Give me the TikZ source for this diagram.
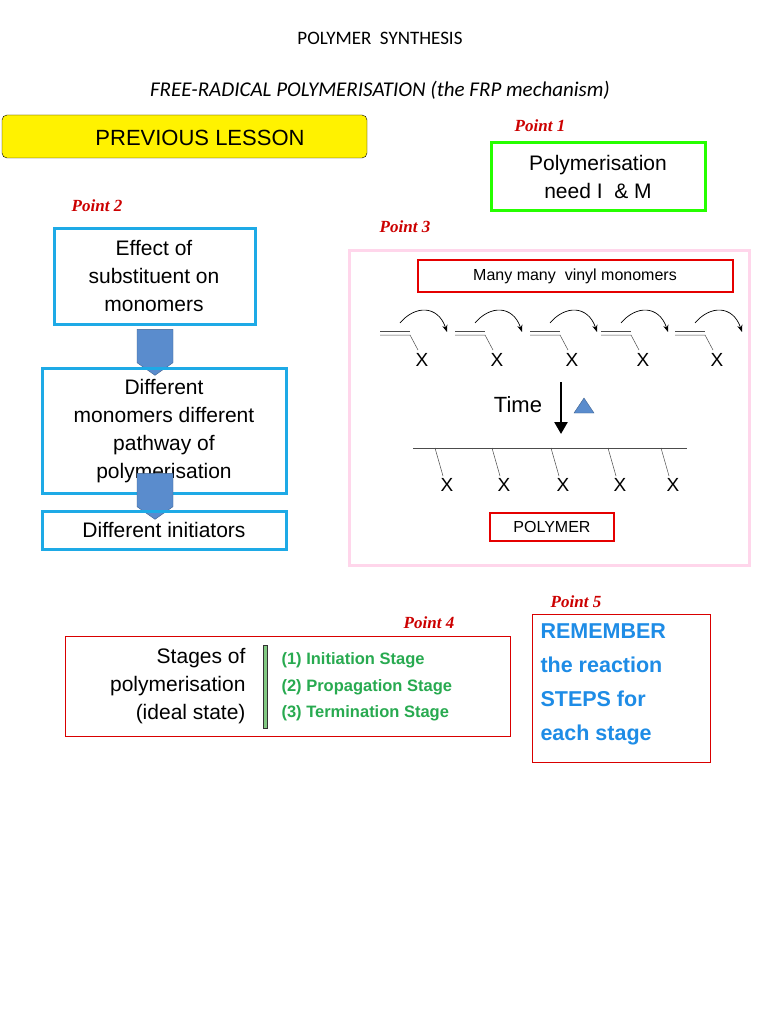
\documentclass[tikz,border=0pt]{standalone}
\usepackage{fontspec}
\setmainfont{Liberation Sans}
\newfontfamily\calib{Carlito}
\newfontfamily\pointfont{Liberation Serif}
\usetikzlibrary{arrows.meta,shapes.geometric,shapes.arrows}
\definecolor{pblue}{RGB}{30,170,230}
\definecolor{arrblue}{RGB}{90,140,205}
\definecolor{sgreen}{RGB}{40,170,80}
\definecolor{rembl}{RGB}{30,140,230}
\begin{document}
\begin{tikzpicture}[x=1pt,y=-1pt,
  pt/.style={font=\pointfont\itshape\bfseries\fontsize{17}{17}\selectfont, text=red!80!black},
  bluebox/.style={draw=pblue, line width=3pt, align=center, font=\fontsize{21}{26}\selectfont},
  redbox/.style={draw=red!90!black, line width=2.5pt},
  bond/.style={line width=0.5pt, gray!60!black},
  xl/.style={font=\fontsize{19}{19}\selectfont},
  downarr/.style={single arrow, draw=arrblue!70!black, fill=arrblue, rotate=-90, minimum height=46pt, minimum width=36pt, single arrow head extend=0pt, inner sep=0pt, single arrow tip angle=110, shape border rotate=0}]
\useasboundingbox (0,0) rectangle (768,1024);
\fill[white] (0,0) rectangle (768,1024);
\node[font=\calib\fontsize{19}{19}\selectfont] (t1) at (380,38) {POLYMER\ \ SYNTHESIS};
\node[font=\calib\itshape\fontsize{21}{21}\selectfont] (t2) at (380,90) {FREE-RADICAL POLYMERISATION (the FRP mechanism)};
\draw[fill=yellow, rounded corners=5pt] (2,115) rectangle (367,158);
\node[font=\fontsize{22}{22}\selectfont] (prev) at (200,138) {PREVIOUS LESSON};
\node[pt] (p1) at (540,126) {Point 1};
\draw[draw=green!80!lime, line width=3pt] (491,143) rectangle (705,211);
\node[align=center, font=\fontsize{21}{28}\selectfont] (pm) at (598,177) {Polymerisation\\need I\ \ \& M};
\node[pt] (p2) at (97,206) {Point 2};
\node[pt] (p3) at (405,227) {Point 3};
\node[pt] (p4) at (429,623) {Point 4};
\node[pt] (p5) at (576,602) {Point 5};
% blue boxes
\draw[bluebox] (54,229) rectangle (255,324);
\node[align=center, font=\fontsize{21}{28}\selectfont] (b1) at (154,276) {Effect of\\substituent on\\monomers};
\node[downarr] (a1) at (155,346) {};
\draw[bluebox] (42,368) rectangle (286,493);
\node[align=center, font=\fontsize{21}{28}\selectfont] (b2) at (164,431) {Different\\monomers different\\pathway of\\polymerisation};
\node[downarr] (a2) at (155,490) {};
\draw[bluebox] (42,511) rectangle (286,549);
\node[font=\fontsize{21}{21}\selectfont] (b3) at (164,530) {Different initiators};
% pink box
\draw[draw=pink!80!magenta!40, line width=3pt] (349,250) rectangle (749,565);
\draw[redbox] (418,260) rectangle (733,292);
\node[font=\fontsize{16}{16}\selectfont] (mm) at (575,276) {Many many\ \ vinyl monomers};
\foreach \x in {380,455,530,601,675}{
  \draw[bond] (\x,331) -- (\x+30,331);
  \draw[bond] (\x,335) -- (\x+30,335) -- (\x+38,350);
  \node[xl] at (\x+42,360) {X};
  \draw[-{Stealth[length=7pt]}, line width=0.7pt] (\x+20,323) .. controls (\x+35,305) and (\x+58,305) .. (\x+67,332);
}
\node[font=\fontsize{22}{22}\selectfont] (time) at (518,405) {Time};
\coordinate (ta) at (561,382);
\coordinate (tb) at (561,434);
\draw[line width=2.5pt, -{Triangle[length=12pt,width=13pt]}] (ta) -- (tb);
\fill[arrblue, draw=arrblue!70!black] (574,413) -- (594,413) -- (584,398) -- cycle;
\draw[bond] (413,448) -- (687,448);
\foreach \x/\xx in {435/447,492/504,551/563,608/620,661/673}{
  \draw[bond] (\x,448) -- (\xx-4,476);
  \node[xl] at (\xx,485) {X};
}
\draw[redbox] (490,513) rectangle (614,541);
\node[font=\fontsize{16}{16}\selectfont] (poly) at (552,527) {POLYMER};
% point 4 box
\draw[draw=red!85!black, line width=1pt] (65,636) rectangle (510,736);
\node[align=right, font=\fontsize{21}{28}\selectfont, anchor=east] (st) at (249,686) {Stages of\\polymerisation\\(ideal state)};
\draw[draw=gray!40!black, fill=green!40!gray!70, line width=0.5pt] (263,645) rectangle (267,728);
\node[align=left, anchor=west, text=sgreen, font=\bfseries\fontsize{16.5}{26.5}\selectfont] (stg) at (278,687) {(1) Initiation Stage\\(2) Propagation Stage\\(3) Termination Stage};
% point 5 box
\draw[draw=red!85!black, line width=1pt] (532,614) rectangle (710,762);
\node[align=left, anchor=north west, text=rembl, font=\bfseries\fontsize{21.5}{34}\selectfont] (rem) at (537,620) {REMEMBER\\the reaction\\STEPS for\\each stage};
\end{tikzpicture}
\end{document}
